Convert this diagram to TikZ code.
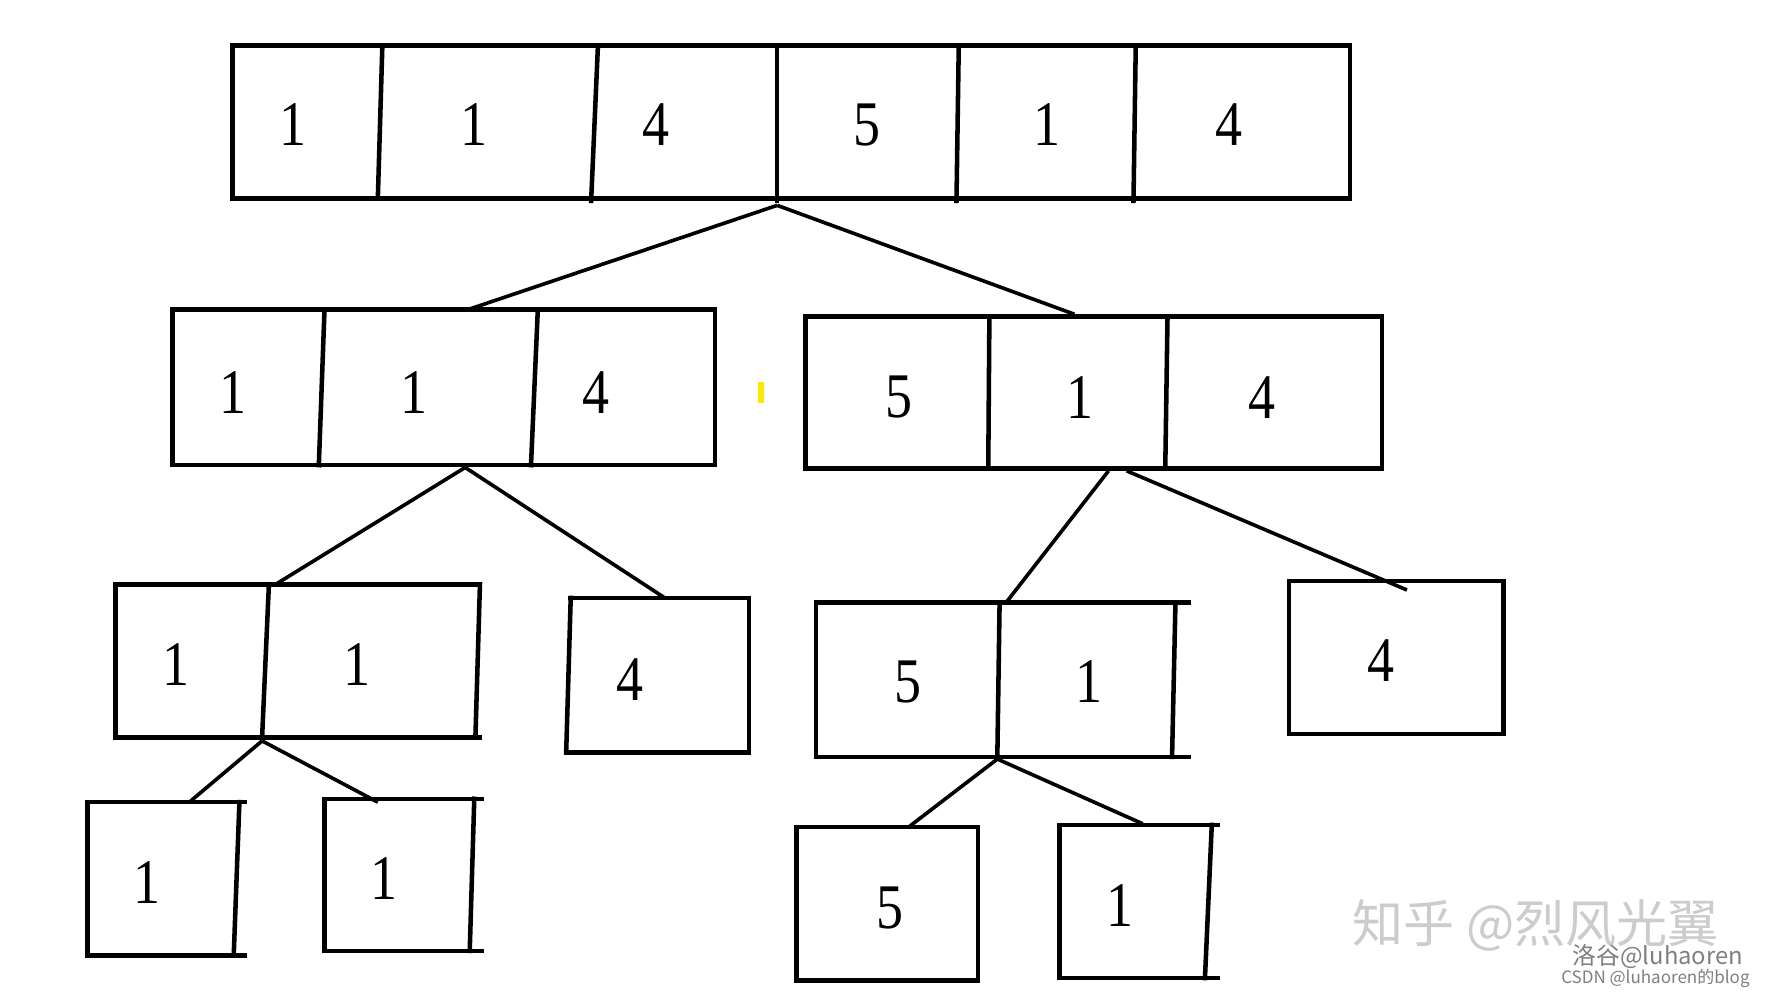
\documentclass[tikz,border=0pt]{standalone}
\usepackage{fontspec}
\setmainfont{Liberation Serif}
\newfontfamily\cjk{Noto Sans CJK SC}
\begin{document}
\begin{tikzpicture}[x=1pt,y=-1pt,line width=4pt,line cap=rect,
  dg/.style={font=\fontsize{56}{60}\selectfont,inner sep=0pt,xscale=0.85},
  edge/.style={line width=3.2pt,line cap=butt},
  wm/.style={anchor=west,inner sep=0pt}]
\useasboundingbox (0,0) rectangle (1560,874);
\fill[white] (0,0) rectangle (1560,874);
% level 1
\draw (205,40) rectangle (1190,175);
\draw (337,40)--(333,175); \draw (527,40)--(521,177); \draw (685,40)--(685,177);
\draw (845,40)--(843,177); \draw (1001,40)--(999,177);
\node[dg] (a1) at (258,110) {1}; \node[dg] (a2) at (418,110) {1};
\node[dg] (a3) at (578,110) {4}; \node[dg] (a4) at (764,110) {5};
\node[dg] (a5) at (923,110) {1}; \node[dg] (a6) at (1083,110) {4};
\coordinate (ab) at (685,181);
% level 2 left
\draw (152,273) rectangle (630,410);
\draw (286,273)--(281,410); \draw (474,273)--(468,410);
\node[dg] (b1) at (205,346) {1}; \node[dg] (b2) at (365,346) {1}; \node[dg] (b3) at (525,346) {4};
\coordinate (bt) at (412,273); \coordinate (bb) at (410,412);
% level 2 right
\draw (710,279) rectangle (1218,413);
\draw (872,279)--(871,413); \draw (1029,279)--(1027,413);
\node[dg] (c1) at (792,350) {5}; \node[dg] (c2) at (952,350) {1}; \node[dg] (c3) at (1112,350) {4};
\coordinate (ct) at (947,277); \coordinate (cb1) at (977,415); \coordinate (cb2) at (993,415);
\fill[yellow!90!orange] (668,337) rectangle (673,355);
\draw[edge] (ab)--(bt); \draw[edge] (ab)--(ct);
% level 3
\draw (423,515)--(102,515)--(102,650)--(423,650); \draw (423,515)--(419,650);
\draw (237,515)--(231,650);
\node[dg] (d1) at (155,586) {1}; \node[dg] (d2) at (315,586) {1};
\coordinate (dt) at (243,515); \coordinate (db) at (231,653);
\draw (503,527)--(660,527)--(660,663)--(499,663); \draw (503,527)--(499,663);
\node[dg] (e1) at (555,599) {4}; \coordinate (et) at (586,527);
\draw (1048,531)--(719,531)--(719,667)--(1048,667); \draw (1036,531)--(1033,667);
\draw (881,531)--(879,667);
\node[dg] (f1) at (800,601) {5}; \node[dg] (f2) at (960,601) {1};
\coordinate (ft) at (886,532); \coordinate (fb) at (879,669);
\draw (1136,512) rectangle (1325,647);
\node[dg] (g1) at (1217,582) {4}; \coordinate (gt) at (1240,520);
\draw[edge] (bb)--(dt); \draw[edge] (bb)--(et);
\draw[edge] (cb1)--(ft); \draw[edge] (cb2)--(gt);
% level 4
\draw (216,707)--(77,707)--(77,842)--(216,842); \draw (211,707)--(206,842);
\node[dg] (h1) at (130,778) {1}; \coordinate (ht) at (168,706);
\draw (425,704)--(286,704)--(286,838)--(425,838); \draw (418,704)--(414,838);
\node[dg] (i1) at (338,774) {1}; \coordinate (it) at (333,707);
\draw (702,729) rectangle (862,864);
\node[dg] (j1) at (784,800) {5}; \coordinate (jt) at (802,728);
\draw (1073,727)--(934,727)--(934,862)--(1073,862); \draw (1068,727)--(1062,862);
\node[dg] (k1) at (987,798) {1}; \coordinate (kt) at (1007,726);
\draw[edge] (db)--(ht); \draw[edge] (db)--(it);
\draw[edge] (fb)--(jt); \draw[edge] (fb)--(kt);
% watermarks
\node[wm,text=black!20,font=\cjk\fontsize{45}{48}\selectfont] (w1) at (1190,816) {知乎 @烈风光翼};
\node[wm,text=black!50,font=\cjk\fontsize{21}{24}\selectfont] (w2) at (1384,843) {洛谷@luhaoren};
\node[wm,text=black!50,font=\cjk\fontsize{15}{18}\selectfont] (w3) at (1374,862) {CSDN @luhaoren的blog};
\end{tikzpicture}
\end{document}
